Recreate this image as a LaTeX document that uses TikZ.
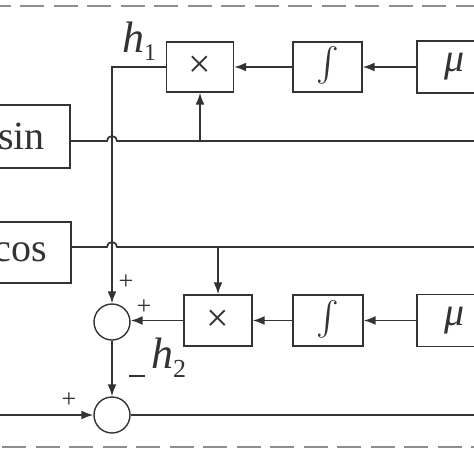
\documentclass[tikz,border=0pt]{standalone}
\usepackage{fontspec}
\setmainfont{Liberation Serif}
\usetikzlibrary{arrows.meta}
\definecolor{ln}{HTML}{333333}
\definecolor{dashc}{HTML}{8E8E8E}
\newcommand{\bigint}{\scalebox{3.4}{$\int$}}
\begin{document}
\begin{tikzpicture}[x=1pt,y=-1pt,
  blk/.style={draw=ln, line width=1.4pt, fill=white, inner sep=0pt, text=ln,
              font=\fontsize{40}{40}\selectfont},
  sumc/.style={draw=ln, circle, minimum size=36pt, inner sep=0pt, line width=1.4pt},
  wire/.style={draw=ln, line width=1.7pt},
  arr/.style={wire, -{Latex[length=12pt,width=9pt]}},
  sgn/.style={font=\fontsize{26}{26}\selectfont, text=ln, inner sep=0pt},
  lbl/.style={font=\fontsize{44}{44}\selectfont, text=ln, inner sep=0pt, anchor=base west},
  dsh/.style={draw=dashc, line width=2.4pt, dash pattern=on 24pt off 9.5pt}]
\clip (0,0) rectangle (474,474);
% dashed borders
\draw[dsh] (-13.5,6) -- (490,6);
\draw[dsh] (2,447) -- (490,447);
% blocks
\node[blk, minimum width=100pt, minimum height=63pt] (sin) at (20,136.5) {\hspace*{3pt}sin};
\node[blk, minimum width=101pt, minimum height=61pt] (cos) at (20.5,252.5) {cos};
\node[blk, minimum width=67pt, minimum height=50pt] (m1) at (200,67) {×};
\node[blk, minimum width=69pt, minimum height=50pt] (i1) at (327.5,67) {\bigint};
\node[blk, minimum width=76pt, minimum height=52pt] (mu1) at (455,67) {\textit{μ}};
\node[blk, minimum width=68pt, minimum height=51pt] (m2) at (218,320.5) {×};
\node[blk, minimum width=70pt, minimum height=51pt] (i2) at (328,320.5) {\bigint};
\node[blk, minimum width=76pt, minimum height=52pt] (mu2) at (455,320.5) {\textit{μ}};
\node[sumc] (s1) at (112,322) {};
\node[sumc] (s2) at (112,415) {};
% free ends
\coordinate (sinend) at (490,141);
\coordinate (cosend) at (490,247);
\coordinate (inp) at (-5,415);
\coordinate (outp) at (490,415);
% sin / cos lines with hops
\draw[wire] ([yshift=-4.5pt]sin.east) -- ([xshift=-5pt]s1.north |- sinend)
  arc[start angle=180, end angle=0, radius=5pt] -- (sinend);
\draw[wire] ([yshift=5.5pt]cos.east) -- ([xshift=-5pt]s1.north |- cosend)
  arc[start angle=180, end angle=0, radius=5pt] -- (cosend);
% top branch
\draw[arr] (m1.south |- sinend) -- (m1.south);
\draw[arr] (mu1.west) -- (i1.east);
\draw[arr] (i1.west) -- (m1.east);
\draw[arr] (m1.west) -| (s1.north);
% bottom branch
\draw[arr] (m2.north |- cosend) -- (m2.north);
\draw[arr] (mu2.west) -- (i2.east);
\draw[arr] (i2.west) -- (m2.east);
\draw[arr] (m2.west) -- (m2.west -| s1.east);
\draw[arr] (s1.south) -- (s2.north);
\draw[arr] (inp) -- (s2.west);
\draw[wire] (s2.east) -- (outp);
% labels
\node[lbl] (h1) at (122,52) {\textit{h}\raisebox{-8pt}{\fontsize{24}{24}\selectfont 1}};
\node[lbl] (h2) at (151,368) {\textit{h}\raisebox{-9pt}{\fontsize{26}{26}\selectfont 2}};
\node[sgn] (p1) at (126,282) {+};
\node[sgn] (p2) at (144,307) {+};
\node[sgn] (mn) at (137,376) {\rule{16pt}{1.4pt}};
\node[sgn] (p3) at (69,400) {+};
\end{tikzpicture}
\end{document}
